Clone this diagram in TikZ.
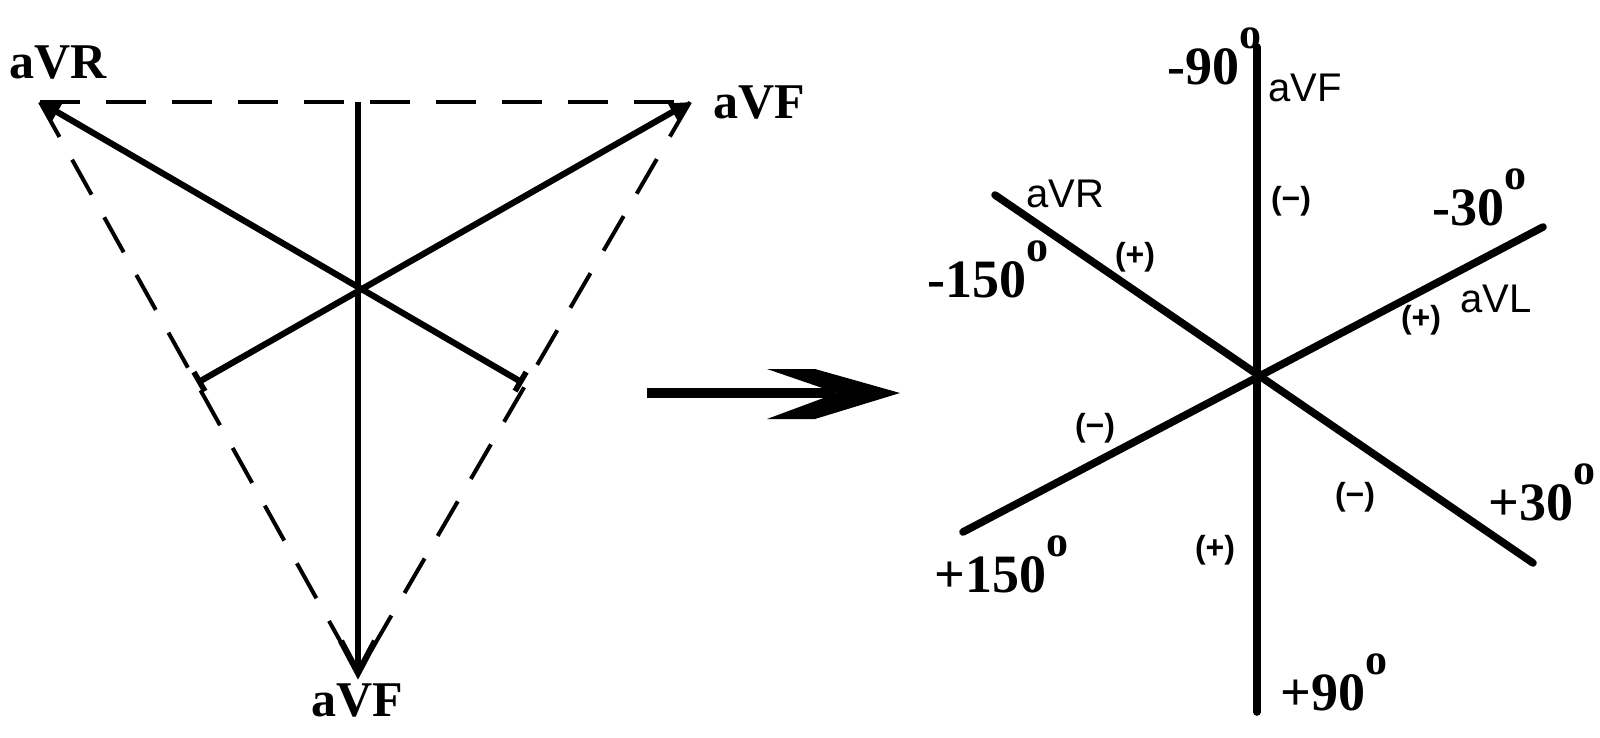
\documentclass[tikz,border=0pt]{standalone}
\usepackage{fontspec}
\setmainfont{Liberation Serif}
\setsansfont{Liberation Sans}
\usetikzlibrary{arrows.meta}
\newcommand\angtxt[1]{#1\raisebox{18pt}{\fontsize{22}{22}\selectfont o}}
\begin{document}
\begin{tikzpicture}[x=0.5pt,y=-0.5pt,
  bigl/.style={font=\fontsize{25}{25}\selectfont\bfseries,inner sep=0pt},
  angl/.style={font=\fontsize{27}{27}\selectfont\bfseries,inner sep=0pt,anchor=base west},
  lead/.style={font=\sffamily\fontsize{20}{20}\selectfont,inner sep=0pt,anchor=base west},
  sign/.style={font=\sffamily\bfseries\fontsize{16}{16}\selectfont,inner sep=0pt},
  axis/.style={line width=3.8pt},
  solid/.style={line width=3.1pt},
  dashline/.style={line width=2pt,dash pattern=on 20pt off 13pt}]
\useasboundingbox (0,0) rectangle (1600,738);
% ---- left figure ----
\coordinate (A) at (40,102);
\coordinate (B) at (690,102);
\coordinate (C) at (358,673);
\coordinate (T) at (358,102);
\coordinate (TL) at (197,383);
\coordinate (TR) at (523,383);
\draw[dashline] (A) -- (B);
\draw[dashline] (A) -- (C);
\draw[dashline] (B) -- (C);
\draw[solid,{Bar[width=11pt,line width=2.8pt]}-{Triangle[length=10pt,width=9pt]}] (TR) -- (A);
\draw[solid,{Bar[width=11pt,line width=2.8pt]}-{Triangle[length=10pt,width=9pt]}] (TL) -- (B);
\draw[solid] (T) -- (C);
\draw[solid,line join=miter] ([shift={(-17,-32)}]C) -- (C) -- ([shift={(17,-32)}]C);
\node[bigl,anchor=base] (lavr) at (58,79) {aVR};
\node[bigl,anchor=base west] (lavf1) at (713,119) {aVF};
\node[bigl,anchor=base] (lavf2) at (357,716) {aVF};
% ---- big arrow ----
\coordinate (S1) at (647,393);
\coordinate (S2) at (836,393);
\draw[line width=5pt] (S1) -- (S2);
\fill (767,369) -- (815,369) -- (900,393) -- (815,419) -- (767,419) -- (837,393) -- cycle;
% ---- right figure ----
\coordinate (O2) at (1257,375);
\coordinate (V1) at (1257,47);
\coordinate (V2) at (1257,712);
\coordinate (R1) at (995,195);
\coordinate (R2) at (1533,563);
\coordinate (L1) at (1543,227);
\coordinate (L2) at (963,532);
\draw[axis,line cap=round] (V1) -- (V2);
\draw[axis,line cap=round] (R1) -- (R2);
\draw[axis,line cap=round] (L1) -- (L2);
\node[angl] (am90) at (1167,85) {\angtxt{-90}};
\node[angl] (am150) at (927,297) {\angtxt{-150}};
\node[angl] (am30) at (1432,225) {\angtxt{-30}};
\node[angl] (ap30) at (1488,520) {\angtxt{+30}};
\node[angl] (ap150) at (934,592) {\angtxt{+150}};
\node[angl] (ap90) at (1280,710) {\angtxt{+90}};
\node[lead] (navf) at (1268,102) {aVF};
\node[lead] (navr) at (1026,207) {aVR};
\node[lead] (navl) at (1460,312) {aVL};
\node[sign] (s1) at (1291,201) {(−)};
\node[sign] (s2) at (1135,257) {(+)};
\node[sign] (s3) at (1421,320) {(+)};
\node[sign] (s4) at (1095,428) {(−)};
\node[sign] (s5) at (1215,550) {(+)};
\node[sign] (s6) at (1355,497) {(−)};
\end{tikzpicture}
\end{document}
